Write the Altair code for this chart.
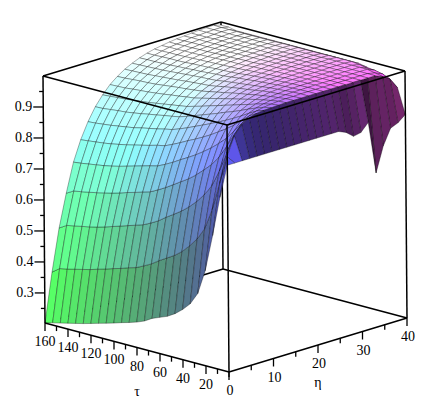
import altair as alt
import numpy as np
import pandas as pd

# ---------------- data ----------------
tau_grid = [0, 6.667, 13.333, 20, 26.667, 33.333, 40, 46.667, 53.333, 60, 66.667, 73.333, 80,
            86.667, 93.333, 100, 106.667, 113.333, 120, 126.667, 133.333, 140, 146.667, 153.333, 160]
eta_grid = [0, 1.667, 3.333, 5, 6.667, 8.333, 10, 11.667, 13.333, 15, 16.667, 18.333, 20,
            21.667, 23.333, 25, 26.667, 28.333, 30, 31.667, 33.333, 35, 36.667, 38.333, 40]

# z rows: one row per tau value, one column per eta value
z_rows = [
    [0.87, 0.87, 0.87, 0.87, 0.87, 0.87, 0.87, 0.87, 0.87, 0.87, 0.87, 0.87, 0.87, 0.87, 0.87, 0.87, 0.86, 0.84, 0.845, 0.87, 0.70, 0.78, 0.83, 0.84, 0.86],
    [0.76, 0.884, 0.944, 0.973, 0.987, 0.994, 0.997, 0.998, 0.999, 1, 1, 1, 1, 1, 1, 1, 1, 1, 1, 1, 1, 1, 0.99, 0.975, 0.94],
    [0.63, 0.791, 0.882, 0.933, 0.962, 0.979, 0.988, 0.993, 0.996, 0.998, 0.999, 0.999, 1, 1, 1, 1, 1, 1, 1, 1, 1, 1, 0.995, 0.985, 0.955],
    [0.51, 0.700, 0.817, 0.888, 0.931, 0.958, 0.974, 0.984, 0.990, 0.994, 0.996, 0.998, 0.999, 0.999, 1, 1, 1, 1, 1, 1, 1, 1, 1, 0.99, 0.965],
    [0.43, 0.632, 0.763, 0.847, 0.901, 0.936, 0.959, 0.974, 0.983, 0.989, 0.993, 0.995, 0.997, 0.998, 0.999, 0.999, 0.999, 1, 1, 1, 1, 1, 1, 0.99, 0.975],
    [0.39, 0.592, 0.727, 0.817, 0.878, 0.918, 0.945, 0.963, 0.975, 0.984, 0.989, 0.993, 0.995, 0.997, 0.998, 0.999, 0.999, 0.999, 1, 1, 1, 1, 1, 0.995, 0.98],
    [0.365, 0.563, 0.699, 0.793, 0.857, 0.902, 0.932, 0.953, 0.968, 0.978, 0.985, 0.990, 0.993, 0.995, 0.997, 0.998, 0.998, 0.999, 0.999, 0.999, 1, 1, 1, 0.998, 0.985],
    [0.345, 0.538, 0.675, 0.771, 0.839, 0.886, 0.920, 0.944, 0.960, 0.972, 0.980, 0.986, 0.990, 0.993, 0.995, 0.997, 0.998, 0.998, 0.999, 0.999, 0.999, 1, 1, 0.998, 0.985],
    [0.33, 0.519, 0.655, 0.752, 0.822, 0.872, 0.908, 0.934, 0.953, 0.966, 0.976, 0.982, 0.987, 0.991, 0.994, 0.995, 0.997, 0.998, 0.998, 0.999, 0.999, 0.999, 1, 0.998, 0.985],
    [0.32, 0.504, 0.638, 0.736, 0.807, 0.859, 0.897, 0.925, 0.945, 0.960, 0.971, 0.979, 0.984, 0.989, 0.992, 0.994, 0.996, 0.997, 0.998, 0.998, 0.999, 0.999, 0.999, 0.998, 0.985],
    [0.31, 0.489, 0.622, 0.720, 0.793, 0.847, 0.886, 0.916, 0.938, 0.954, 0.966, 0.975, 0.981, 0.986, 0.990, 0.992, 0.994, 0.996, 0.997, 0.998, 0.998, 0.999, 0.999, 0.997, 0.985],
    [0.295, 0.472, 0.604, 0.704, 0.778, 0.834, 0.875, 0.907, 0.930, 0.948, 0.961, 0.971, 0.978, 0.984, 0.988, 0.991, 0.993, 0.995, 0.996, 0.997, 0.998, 0.998, 0.999, 0.997, 0.985],
    [0.285, 0.459, 0.590, 0.690, 0.765, 0.822, 0.865, 0.898, 0.923, 0.942, 0.956, 0.966, 0.975, 0.981, 0.985, 0.989, 0.992, 0.994, 0.995, 0.996, 0.997, 0.998, 0.998, 0.997, 0.985],
    [0.277, 0.447, 0.578, 0.677, 0.753, 0.811, 0.856, 0.890, 0.916, 0.936, 0.951, 0.962, 0.971, 0.978, 0.983, 0.987, 0.990, 0.992, 0.994, 0.996, 0.997, 0.997, 0.998, 0.997, 0.985],
    [0.27, 0.440, 0.570, 0.670, 0.747, 0.806, 0.851, 0.885, 0.912, 0.933, 0.948, 0.960, 0.969, 0.977, 0.982, 0.986, 0.989, 0.992, 0.994, 0.995, 0.996, 0.997, 0.998, 0.997, 0.985],
    [0.262, 0.431, 0.562, 0.662, 0.740, 0.799, 0.845, 0.881, 0.908, 0.929, 0.945, 0.958, 0.968, 0.975, 0.981, 0.985, 0.989, 0.991, 0.993, 0.995, 0.996, 0.997, 0.998, 0.997, 0.985],
    [0.255, 0.424, 0.554, 0.655, 0.733, 0.793, 0.840, 0.876, 0.904, 0.926, 0.943, 0.956, 0.966, 0.973, 0.979, 0.984, 0.988, 0.990, 0.993, 0.994, 0.996, 0.997, 0.997, 0.996, 0.985],
    [0.248, 0.416, 0.546, 0.647, 0.726, 0.787, 0.835, 0.872, 0.900, 0.922, 0.940, 0.953, 0.964, 0.972, 0.978, 0.983, 0.987, 0.990, 0.992, 0.994, 0.995, 0.996, 0.997, 0.996, 0.985],
    [0.241, 0.409, 0.538, 0.640, 0.719, 0.781, 0.829, 0.867, 0.896, 0.919, 0.937, 0.951, 0.962, 0.970, 0.977, 0.982, 0.986, 0.989, 0.991, 0.993, 0.995, 0.996, 0.997, 0.996, 0.985],
    [0.234, 0.401, 0.531, 0.634, 0.713, 0.776, 0.825, 0.863, 0.893, 0.916, 0.934, 0.949, 0.960, 0.969, 0.975, 0.981, 0.985, 0.988, 0.991, 0.993, 0.994, 0.996, 0.997, 0.996, 0.985],
    [0.228, 0.395, 0.525, 0.628, 0.708, 0.771, 0.821, 0.859, 0.890, 0.914, 0.932, 0.947, 0.958, 0.967, 0.974, 0.980, 0.984, 0.988, 0.990, 0.992, 0.994, 0.995, 0.996, 0.996, 0.985],
    [0.222, 0.389, 0.520, 0.623, 0.704, 0.767, 0.817, 0.857, 0.887, 0.912, 0.931, 0.945, 0.957, 0.966, 0.974, 0.979, 0.984, 0.987, 0.990, 0.992, 0.994, 0.995, 0.996, 0.996, 0.985],
    [0.216, 0.383, 0.515, 0.618, 0.700, 0.764, 0.814, 0.854, 0.885, 0.909, 0.929, 0.944, 0.956, 0.965, 0.973, 0.979, 0.983, 0.987, 0.990, 0.992, 0.993, 0.995, 0.996, 0.996, 0.985],
    [0.210, 0.378, 0.510, 0.614, 0.696, 0.761, 0.811, 0.851, 0.883, 0.908, 0.927, 0.943, 0.955, 0.965, 0.972, 0.978, 0.983, 0.986, 0.989, 0.992, 0.993, 0.995, 0.996, 0.996, 0.99],
    [0.203, 0.36, 0.495, 0.60, 0.693, 0.758, 0.809, 0.850, 0.881, 0.907, 0.926, 0.942, 0.954, 0.964, 0.972, 0.978, 0.982, 0.986, 0.989, 0.991, 0.993, 0.995, 0.996, 0.997, 0.99],
]

tau_major = [20, 40, 60, 80, 100, 120, 140, 160]
tau_minor = [0, 10, 30, 50, 70, 90, 110, 130, 150]
eta_major = [0, 10, 20, 30, 40]
eta_minor = [5, 15, 25, 35]
z_major = [0.3, 0.4, 0.5, 0.6, 0.7, 0.8, 0.9]
z_minor = [0.25, 0.35, 0.45, 0.55, 0.65, 0.75, 0.85, 0.95]

# ---------------- axonometric view ----------------
W, H = 408, 394
Z = np.array(z_rows, dtype=float)
ZMIN, ZMAX = float(Z.min()), float(Z.max())
TMAX, EMAX = max(tau_grid), max(eta_grid)
ORIGIN = (221.0, 364.0)          # front-bottom corner of the box, page coords
U_VEC = (-184.0, -49.0)          # tau: 0 -> max
V_VEC = (178.0, -54.0)           # eta: 0 -> max
W_VEC = (-2.0, -247.0)           # z: min -> max


def norm3(t, e, z):
    return t / TMAX, e / EMAX, (z - ZMIN) / (ZMAX - ZMIN)


def proj(t, e, z):
    u, v, w = norm3(t, e, z)
    x = ORIGIN[0] + U_VEC[0] * u + V_VEC[0] * v + W_VEC[0] * w
    y = ORIGIN[1] + U_VEC[1] * u + V_VEC[1] * v + W_VEC[1] * w
    return [round(x, 2), round(y, 2)]


LIGHT = np.array([0.07, -0.48, 0.875])
LIGHT = LIGHT / np.linalg.norm(LIGHT)


def shade(base, n):
    d = max(0.0, float(np.dot(n, LIGHT)))
    k = 0.2 + 0.75 * d
    s = 0.08 + 0.38 * d
    rgb = np.clip(np.array(base) * k + s, 0, 1)
    return "#%02x%02x%02x" % tuple(int(round(c * 255)) for c in rgb)


quads = []
nt, ne = len(tau_grid), len(eta_grid)
for i in range(nt - 1):
    for j in range(ne - 1):
        corners = [(i, j), (i + 1, j), (i + 1, j + 1), (i, j + 1)]
        pts3 = [np.array(norm3(tau_grid[a], eta_grid[b], Z[a, b])) for a, b in corners]
        d1 = pts3[2] - pts3[0]
        d2 = pts3[3] - pts3[1]
        n = np.cross(d1, d2)
        n = n / (np.linalg.norm(n) + 1e-12)
        if n[2] < 0:
            n = -n
        c = np.mean(pts3, axis=0)
        base = (c[1], c[0], c[2])        # red ~ eta, green ~ tau, blue ~ height
        depth = c[0] + 1.029 * c[1] - 0.423 * c[2]
        ring = [proj(tau_grid[a], eta_grid[b], Z[a, b]) for a, b in corners]
        ring.append(ring[0])
        quads.append((depth, ring, shade(base, n)))

quads.sort(key=lambda q: -q[0])
features = [{"type": "Feature",
             "geometry": {"type": "Polygon", "coordinates": [[[0, 0], [W, 0], [W, H], [0, H], [0, 0]]]},
             "properties": {"fill": "#ffffff", "so": 0, "fo": 0}}]
for depth, ring, col in quads:
    features.append({"type": "Feature",
                     "geometry": {"type": "Polygon", "coordinates": [ring]},
                     "properties": {"fill": col, "so": 0.6, "fo": 1}})

surface = alt.Chart(alt.Data(values=features)).mark_geoshape(
    stroke="#000000", strokeWidth=0.55
).encode(
    color=alt.Color("properties.fill:N", scale=None),
    strokeOpacity=alt.StrokeOpacity("properties.so:Q", scale=None),
    fillOpacity=alt.FillOpacity("properties.fo:Q", scale=None),
).project(type="identity")

# ---------------- box ----------------
A = proj(TMAX, 0, ZMIN); A2 = proj(TMAX, 0, ZMAX)
B = proj(0, 0, ZMIN); B2 = proj(0, 0, ZMAX)
C = proj(0, EMAX, ZMIN); C2 = proj(0, EMAX, ZMAX)
D = proj(TMAX, EMAX, ZMIN); D2 = proj(TMAX, EMAX, ZMAX)


def seg_df(segs):
    return pd.DataFrame([{"x1": p[0], "y1": p[1], "x2": q[0], "y2": q[1]} for p, q in segs])


def rules(df, width):
    return alt.Chart(df).mark_rule(color="#000000", strokeWidth=width).encode(
        x=alt.X("x1:Q", scale=None, axis=None), y=alt.Y("y1:Q", scale=None, axis=None),
        x2="x2:Q", y2="y2:Q")


back_edges = rules(seg_df([(D, D2), (A, D), (D, C)]), 1.5)
front_edges = rules(seg_df([(A, A2), (B, B2), (C, C2), (A, B), (B, C),
                            (A2, B2), (B2, C2), (A2, D2), (D2, C2)]), 1.5)

tick_segs = []
for t in tau_major:
    p = proj(t, 0, ZMIN); tick_segs.append((p, [p[0], p[1] + 8]))
for t in tau_minor:
    p = proj(t, 0, ZMIN); tick_segs.append((p, [p[0], p[1] + 5]))
for e in eta_major:
    p = proj(0, e, ZMIN); tick_segs.append((p, [p[0], p[1] + 8]))
for e in eta_minor:
    p = proj(0, e, ZMIN); tick_segs.append((p, [p[0], p[1] + 5]))
for zt in z_major:
    p = proj(TMAX, 0, zt); tick_segs.append((p, [p[0] - 10, p[1]]))
for zt in z_minor:
    p = proj(TMAX, 0, zt); tick_segs.append((p, [p[0] - 4, p[1]]))
ticks = rules(seg_df(tick_segs), 1.3)

lab_c = []
for t in tau_major:
    p = proj(t, 0, ZMIN); lab_c.append({"x": p[0], "y": p[1] + 19, "text": str(t)})
for e in eta_major:
    p = proj(0, e, ZMIN); lab_c.append({"x": p[0] + 1, "y": p[1] + 19, "text": str(e)})
lab_z = []
for zt in z_major:
    p = proj(TMAX, 0, zt); lab_z.append({"x": p[0] - 11, "y": p[1], "text": f"{zt:.1f}"})
titles = []
p = proj(80, 0, ZMIN); titles.append({"x": p[0], "y": p[1] + 44, "text": "τ"})
p = proj(0, 20, ZMIN); titles.append({"x": p[0], "y": p[1] + 38, "text": "η"})

FONT = "Liberation Serif"


def texts(rows, align, size):
    return alt.Chart(pd.DataFrame(rows)).mark_text(
        align=align, baseline="middle", font=FONT, fontSize=size, color="#000000"
    ).encode(x=alt.X("x:Q", scale=None, axis=None), y=alt.Y("y:Q", scale=None, axis=None),
             text="text:N")


chart = alt.layer(
    back_edges, surface, front_edges, ticks,
    texts(lab_c, "center", 14), texts(lab_z, "right", 14), texts(titles, "center", 14),
).properties(
    width=W, height=H, padding=0, autosize=alt.AutoSizeParams(type="none")
).configure_view(strokeWidth=0)

chart.save("out.html", embed_options={"renderer": "svg", "actions": False})
